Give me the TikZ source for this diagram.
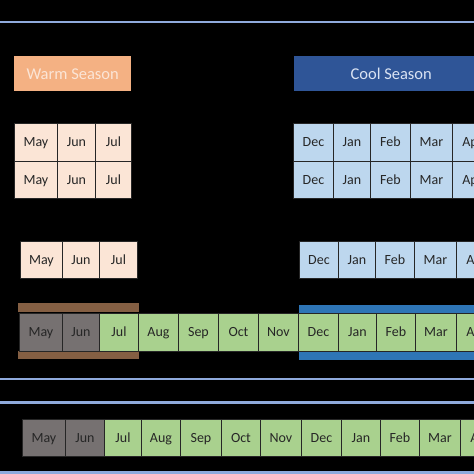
\documentclass[tikz,border=0pt]{standalone}
\usepackage{fontspec}
\setmainfont{Carlito}
\definecolor{warmbox}{HTML}{F4B183}
\definecolor{warmtext}{HTML}{FBE5D6}
\definecolor{coolbox}{HTML}{2F5597}
\definecolor{cooltext}{HTML}{DAE3F3}
\definecolor{warmcell}{HTML}{FBE5D6}
\definecolor{coolcell}{HTML}{BDD7EE}
\definecolor{growcell}{HTML}{A9D18E}
\definecolor{dormcell}{HTML}{767171}
\definecolor{cellline}{HTML}{262626}
\definecolor{warmbar}{HTML}{845F43}
\definecolor{coolbar}{HTML}{2E75B6}
\definecolor{rulecol}{HTML}{8FAADC}

\begin{document}
\begin{tikzpicture}[x=1pt,y=-1pt,
  month/.style={draw=cellline, line width=0.9pt, inner sep=0pt, anchor=north west,
    text=cellline, font=\fontsize{14}{16}\selectfont, text height=9pt, text depth=0pt},
  season/.style={inner sep=0pt, anchor=north west, minimum height=35pt,
    font=\fontsize{16.5}{18}\selectfont, text height=10.6pt, text depth=0pt},
  rule/.style={draw=rulecol, line width=2.6pt}]
\clip (0,0) rectangle (474,474);
\fill[black] (0,0) rectangle (474,474);

% separators
\draw[rule] (0,22) -- (474,22);
\draw[rule] (0,379) -- (474,379);
\draw[rule] (0,402.5) -- (474,402.5);
\draw[rule] (0,472.5) -- (474,472.5);

% seasons
\node[season, fill=warmbox, text=warmtext, minimum width=117pt] (warm) at (14,56) {Warm Season};
\node[season, fill=coolbox, text=cooltext, minimum width=194pt] (cool) at (294,56) {Cool Season};

% season months, two rows
\foreach \m/\a/\b in {May/14/57, Jun/57/95, Jul/95/131}{
  \node[month, fill=warmcell, minimum width={(\b-\a)*1pt}, minimum height=38pt] (a-\m) at (\a,123) {\m};
  \node[month, fill=warmcell, minimum width={(\b-\a)*1pt}, minimum height=37pt] (b-\m) at (\a,161) {\m};
}
\foreach \m/\a/\b in {Dec/293/333, Jan/333/370, Feb/370/410, Mar/410/452, Apr/452/492}{
  \node[month, fill=coolcell, minimum width={(\b-\a)*1pt}, minimum height=38pt] (a-\m) at (\a,123) {\m};
  \node[month, fill=coolcell, minimum width={(\b-\a)*1pt}, minimum height=37pt] (b-\m) at (\a,161) {\m};
}

% third row
\foreach \m/\a/\b in {May/20/62, Jun/62/99, Jul/99/137}
  \node[month, fill=warmcell, minimum width={(\b-\a)*1pt}, minimum height=37pt] (c-\m) at (\a,241) {\m};
\foreach \m/\a/\b in {Dec/299/338, Jan/338/375, Feb/375/414, Mar/414/456, Apr/456/496}
  \node[month, fill=coolcell, minimum width={(\b-\a)*1pt}, minimum height=37pt] (c-\m) at (\a,241) {\m};

% bars
\fill[warmbar] (18,303) rectangle (139,312);
\fill[warmbar] (18,351) rectangle (139,358.5);
\fill[coolbar] (299,305) rectangle (480,313);
\fill[coolbar] (299,352) rectangle (480,360);

% full year
\foreach \m/\a/\b/\c in {May/19/62/dormcell, Jun/62/99/dormcell, Jul/99/138/growcell,
    Aug/138/178/growcell, Sep/178/218/growcell, Oct/218/258/growcell, Nov/258/298/growcell,
    Dec/298/338/growcell, Jan/338/376/growcell, Feb/376/415/growcell, Mar/415/456/growcell,
    Apr/456/496/growcell}
  \node[month, fill=\c, minimum width={(\b-\a)*1pt}, minimum height=38pt] (d-\m) at (\a,313) {\m};

\foreach \m/\a/\b/\c in {May/22/65/dormcell, Jun/65/104/dormcell, Jul/104/141/growcell,
    Aug/141/180/growcell, Sep/180/221/growcell, Oct/221/260/growcell, Nov/260/301/growcell,
    Dec/301/341/growcell, Jan/341/380/growcell, Feb/380/419/growcell, Mar/419/460/growcell,
    Apr/460/500/growcell}
  \node[month, fill=\c, minimum width={(\b-\a)*1pt}, minimum height=37pt] (e-\m) at (\a,419) {\m};
\end{tikzpicture}
\end{document}
